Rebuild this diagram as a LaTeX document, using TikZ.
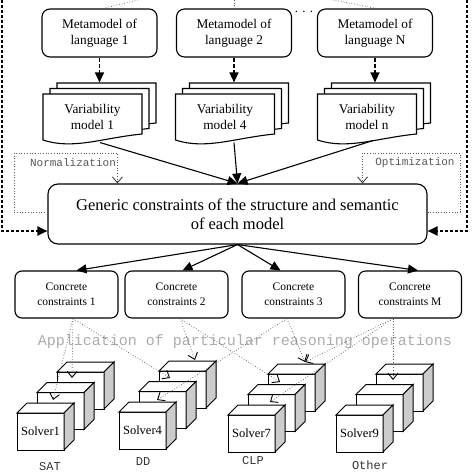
\documentclass[tikz,border=0pt]{standalone}
\usepackage{fontspec}
\setmainfont{Liberation Serif}
\setmonofont{Liberation Mono}
\usetikzlibrary{arrows.meta}
\usetikzlibrary{calc}
\usetikzlibrary{positioning}

\begin{document}
\begin{tikzpicture}[x=1pt, y=-1pt, line width=1.1pt]
  \tikzstyle{meta} = [draw, rounded corners=8pt, minimum width=115pt, minimum height=48pt, align=center, font=\fontsize{13.3}{16}\selectfont]
  \tikzstyle{vmtext} = [minimum width=99pt, minimum height=46pt, align=center, font=\fontsize{13.3}{16}\selectfont]
  \tikzstyle{generic} = [draw, rounded corners=10pt, minimum width=379pt, minimum height=60pt, align=center, font=\fontsize{16.5}{19}\selectfont]
  \tikzstyle{concrete} = [draw, rounded corners=7pt, minimum width=103pt, minimum height=47pt, align=center, font=\fontsize{11.5}{15}\selectfont]
  \tikzstyle{cube} = [draw, fill=white, line width=1pt, minimum width=47pt, minimum height=37pt, inner sep=0pt, outer sep=0pt, font=\fontsize{12.5}{14}\selectfont]
  \tikzstyle{face} = [draw, fill=white, line width=1pt]
  \tikzstyle{mono} = [font=\fontsize{11}{13}\ttfamily, text=gray!70!black]
  \tikzstyle{kindlabel} = [font=\fontsize{12}{14}\ttfamily, text=gray!40!black]
  \tikzstyle{flow} = [-{Triangle[length=10pt,width=9pt]}]
  \tikzstyle{dflow} = [flow, dash pattern=on 4pt off 2pt]
  \tikzstyle{border} = [-{Triangle[length=10pt,width=9pt]}, line width=2pt, dash pattern=on 3pt off 2pt]
  \tikzstyle{link} = [dotted, line width=0.7pt, draw=gray!70!black]
  \tikzstyle{tune} = [link, -{Straight Barb[length=6pt,width=10pt,color=black!80,line width=0.8pt]}]
  \tikzstyle{reason} = [link, -{Straight Barb[length=6pt,width=10pt,color=black,line width=0.9pt]}]

  \useasboundingbox (0,0) rectangle (474,474);

  % Metamodels
  \foreach \i/\x in {1/99.5, 2/234, N/375}
    \node[meta] (m\i) at (\x,33) {Metamodel of\\language \i};
  \node[anchor=base, font=\fontsize{13}{15}\selectfont] (dots) at (304,12) {.\,\,.\,\,.};

  % Links from above
  \coordinate (up1) at (138,0);
  \coordinate (up2) at (234,0);
  \coordinate (upN) at (333,0);
  \draw[link] (up1) -- ($(m1.north)+(3.5,0)$);
  \draw[link] (up2) -- (m2.north);
  \draw[link] (upN) -- ($(mN.north)+(2,0)$);

  % Variability models
  \foreach \i/\x in {1/92.5, 4/225, n/367} {
    \foreach \d in {2,1,0} {
      \pgfmathsetmacro\xa{\x-49.5+7*\d}
      \pgfmathsetmacro\ya{94-5.5*\d}
      \draw[fill=white] (\xa,\ya) -- (\xa+99,\ya) -- (\xa+99,\ya+40)
        .. controls (\xa+59,\ya+44) and (\xa+30,\ya+56) .. (\xa,\ya+46) -- cycle;
    }
    \node[vmtext] (vm\i) at (\x,117) {Variability\\model \i};
  }
  \foreach \m/\v in {1/1, 2/4, N/n}
    \draw[dflow] (m\m.south) -- ($(m\m.south |- vm\v.north)+(0,-11)$);

  % Generic constraints
  \node[generic] (gen) at (237.5,214) {Generic constraints of the structure and semantic\\of each model};
  \draw[flow] ($(vm1.south)+(7.5,2)$) -- (gen.north);
  \draw[flow] ($(vm4.south)+(9,2)$) -- (gen.north);
  \draw[flow] ($(vmn.south)+(6,0)$) -- (gen.north);

  % Outer loops
  \coordinate (bl) at (2,0);
  \coordinate (br) at (467,0);
  \draw[border] (bl) |- ($(gen.west)+(0,17)$);
  \draw[border] (br) |- ($(gen.east)+(0,17)$);

  \coordinate (nl) at (14,153);
  \coordinate (op) at (460,153);
  \draw[tune] ($(gen.west)+(0,-2)$) -| (nl) -| ($(gen.north west)+(70,0)$);
  \draw[tune] ($(gen.east)+(0,-2)$) -| (op) -| ($(gen.north east)+(-65,0)$);
  \node[mono] (norm) at (73,163) {Normalization};
  \node[mono] (opt) at (415,163) {Optimization};

  % Concrete constraints
  \foreach \i/\x/\t in {1/66.5/1, 2/176.5/2, 3/293.5/3, 4/410/M}
    \node[concrete] (c\i) at (\x,294.5) {Concrete\\constraints \t};
  \draw[flow] (gen.south) -- ($(c1.north)+(10,0)$);
  \draw[flow] (gen.south) -- ($(c2.north)+(6,0)$);
  \draw[flow] (gen.south) -- ($(c3.north)+(-13,0)$);
  \draw[flow] (gen.south) -- ($(c4.north)+(8,0)$);

  \node[font=\fontsize{15}{17}\ttfamily, text=gray!65] (appl) at (245,342) {Application of particular reasoning operations};

  % Solvers
  \foreach \s/\x/\y/\sname/\skind/\lx/\ly in {1/17/450/Solver1/SAT/50/467, 2/119/449/Solver4/DD/143/462, 3/228/452/Solver7/CLP/253/461, 4/336/452/Solver9/Other/370/465} {
    \foreach \k/\d in {a/2, b/1, c/0} {
      \pgfmathsetmacro\cx{\x+23.5+20*\d}
      \pgfmathsetmacro\cy{\y-18.5-20.5*\d}
      \node[cube] (s\s\k) at (\cx,\cy) {\ifnum\d=0 \sname\fi};
      \draw[face] (s\s\k.north west) -- ++(10,-10) -- ++(47,0) -- (s\s\k.north east) -- cycle;
      \draw[face, fill=gray!40] (s\s\k.north east) -- ++(10,-10) -- ++(0,37) -- (s\s\k.south east) -- cycle;
    }
    \node[kindlabel] (k\s) at (\lx,\ly) {\skind};
  }

  % Reasoning operations
  \draw[reason] ($(c1.south)+(6.5,0)$) -- ($(s1a)+(-8.5,-12.5)$);
  \draw[reason] ($(c1.south)+(6.5,0)$) -- ($(s1b)+(-7.5,-11)$);
  \draw[reason] ($(c1.south)+(6.5,0)$) -- ($(s2a)+(-12.5,-11.5)$);
  \draw[reason] ($(c2.south)+(3.5,0)$) -- ($(s2a)+(12.5,-29.5)$);
  \draw[reason] ($(c2.south)+(3.5,0)$) -- ($(s3a)+(-11.5,-10.5)$);
  \draw[reason] ($(c3.south)+(-6.5,0)$) -- ($(s3a)+(13.5,-30.5)$);
  \draw[reason] ($(c3.south)+(-6.5,0)$) -- ($(s2b)+(-5.5,-10)$);
  \draw[reason] ($(c4.south)+(-17,0)$) -- ($(s3a)+(13.5,-30.5)$);
  \draw[reason] ($(c4.south)+(-17,0)$) -- ($(s3b)+(-1.5,-11)$);
  \draw[reason] ($(c4.south)+(-17,0)$) -- ($(s4a)+(-6.5,-12.5)$);

\end{tikzpicture}
\end{document}
